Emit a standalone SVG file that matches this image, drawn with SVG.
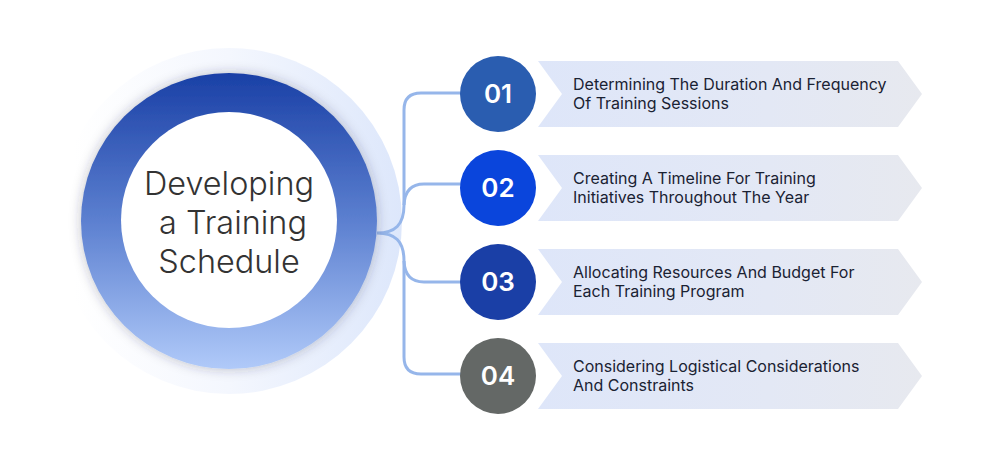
<svg xmlns="http://www.w3.org/2000/svg" width="1000" height="466" viewBox="0 0 1000 466">
<style>
.c{fill:none;stroke:#96b6ea;stroke-width:3}
.b{fill:url(#bar)}
.t{font-family:Inter,"Liberation Sans",sans-serif;font-size:16px;fill:#1a2233}
.n{font-family:Inter,"Liberation Sans",sans-serif;font-size:26px;font-weight:600;fill:#fff;text-anchor:middle}
.m{font-family:Inter,"Liberation Sans",sans-serif;font-size:32.4px;font-weight:300;fill:#333;text-anchor:middle}
</style>
<defs>
<linearGradient id="halo" x1="0" x2="1" y1="0" y2="0"><stop offset="0.05" stop-color="#fff"/><stop offset="0.5" stop-color="#f4f7fe"/><stop offset="1" stop-color="#dde7fb"/></linearGradient>
<linearGradient id="ring" x1="0" x2="0" y1="0" y2="1"><stop offset="0" stop-color="#1a40a6"/><stop offset="0.5" stop-color="#5c80d0"/><stop offset="1" stop-color="#b0caf9"/></linearGradient>
<linearGradient id="bar" x1="0" x2="1" y1="0" y2="0"><stop offset="0" stop-color="#dee6f9"/><stop offset="0.6" stop-color="#e3e8f5"/><stop offset="1" stop-color="#e7e9ef"/></linearGradient>
<filter id="sh" x="-15%" y="-15%" width="130%" height="130%"><feDropShadow dx="0" dy="0" stdDeviation="6" flood-color="#334" flood-opacity="0.3"/></filter>
</defs>
<rect width="1000" height="466" fill="#fff"/>
<g id="connectors">
<path class="c" d="M404 205V110Q404 93 421 93H462"/>
<path class="c" d="M404 205Q405 184 424 184H462"/>
<path class="c" d="M404 261V357Q404 374 421 374H462"/>
<path class="c" d="M404 261Q405 282 424 282H462"/>
</g>
<g id="hub">
<circle cx="229" cy="221" r="173" fill="url(#halo)"/>
<path class="c" d="M404 205C404 225 395 233 377 233C395 233 404 241 404 261"/>
<circle cx="229" cy="221" r="148" fill="url(#ring)" filter="url(#sh)"/>
<circle cx="229" cy="220" r="108" fill="#fff"/>
<text class="m" x="229" y="195">Developing</text>
<text class="m" x="233" y="234">a Training</text>
<text class="m" x="229" y="273">Schedule</text>
</g>
<g id="item1">
<path class="b" d="M538 61H898L922 94L898 127H538L562 94Z"/>
<circle cx="498" cy="94" r="38" fill="#2a5db0"/>
<text class="n" x="498" y="103">01</text>
<text class="t" x="573" y="90">Determining The Duration And Frequency</text>
<text class="t" x="573" y="109">Of Training Sessions</text>
</g>
<g id="item2">
<path class="b" d="M538 155H898L922 188L898 221H538L562 188Z"/>
<circle cx="498" cy="188" r="38" fill="#0a45dc"/>
<text class="n" x="498" y="197">02</text>
<text class="t" x="573" y="184">Creating A Timeline For Training</text>
<text class="t" x="573" y="203">Initiatives Throughout The Year</text>
</g>
<g id="item3">
<path class="b" d="M538 249H898L922 282L898 315H538L562 282Z"/>
<circle cx="498" cy="282" r="38" fill="#1a3fa6"/>
<text class="n" x="498" y="291">03</text>
<text class="t" x="573" y="278">Allocating Resources And Budget For</text>
<text class="t" x="573" y="297">Each Training Program</text>
</g>
<g id="item4">
<path class="b" d="M538 343H898L922 376L898 409H538L562 376Z"/>
<circle cx="498" cy="376" r="38" fill="#646866"/>
<text class="n" x="498" y="385">04</text>
<text class="t" x="573" y="372">Considering Logistical Considerations</text>
<text class="t" x="573" y="391">And Constraints</text>
</g>
</svg>
